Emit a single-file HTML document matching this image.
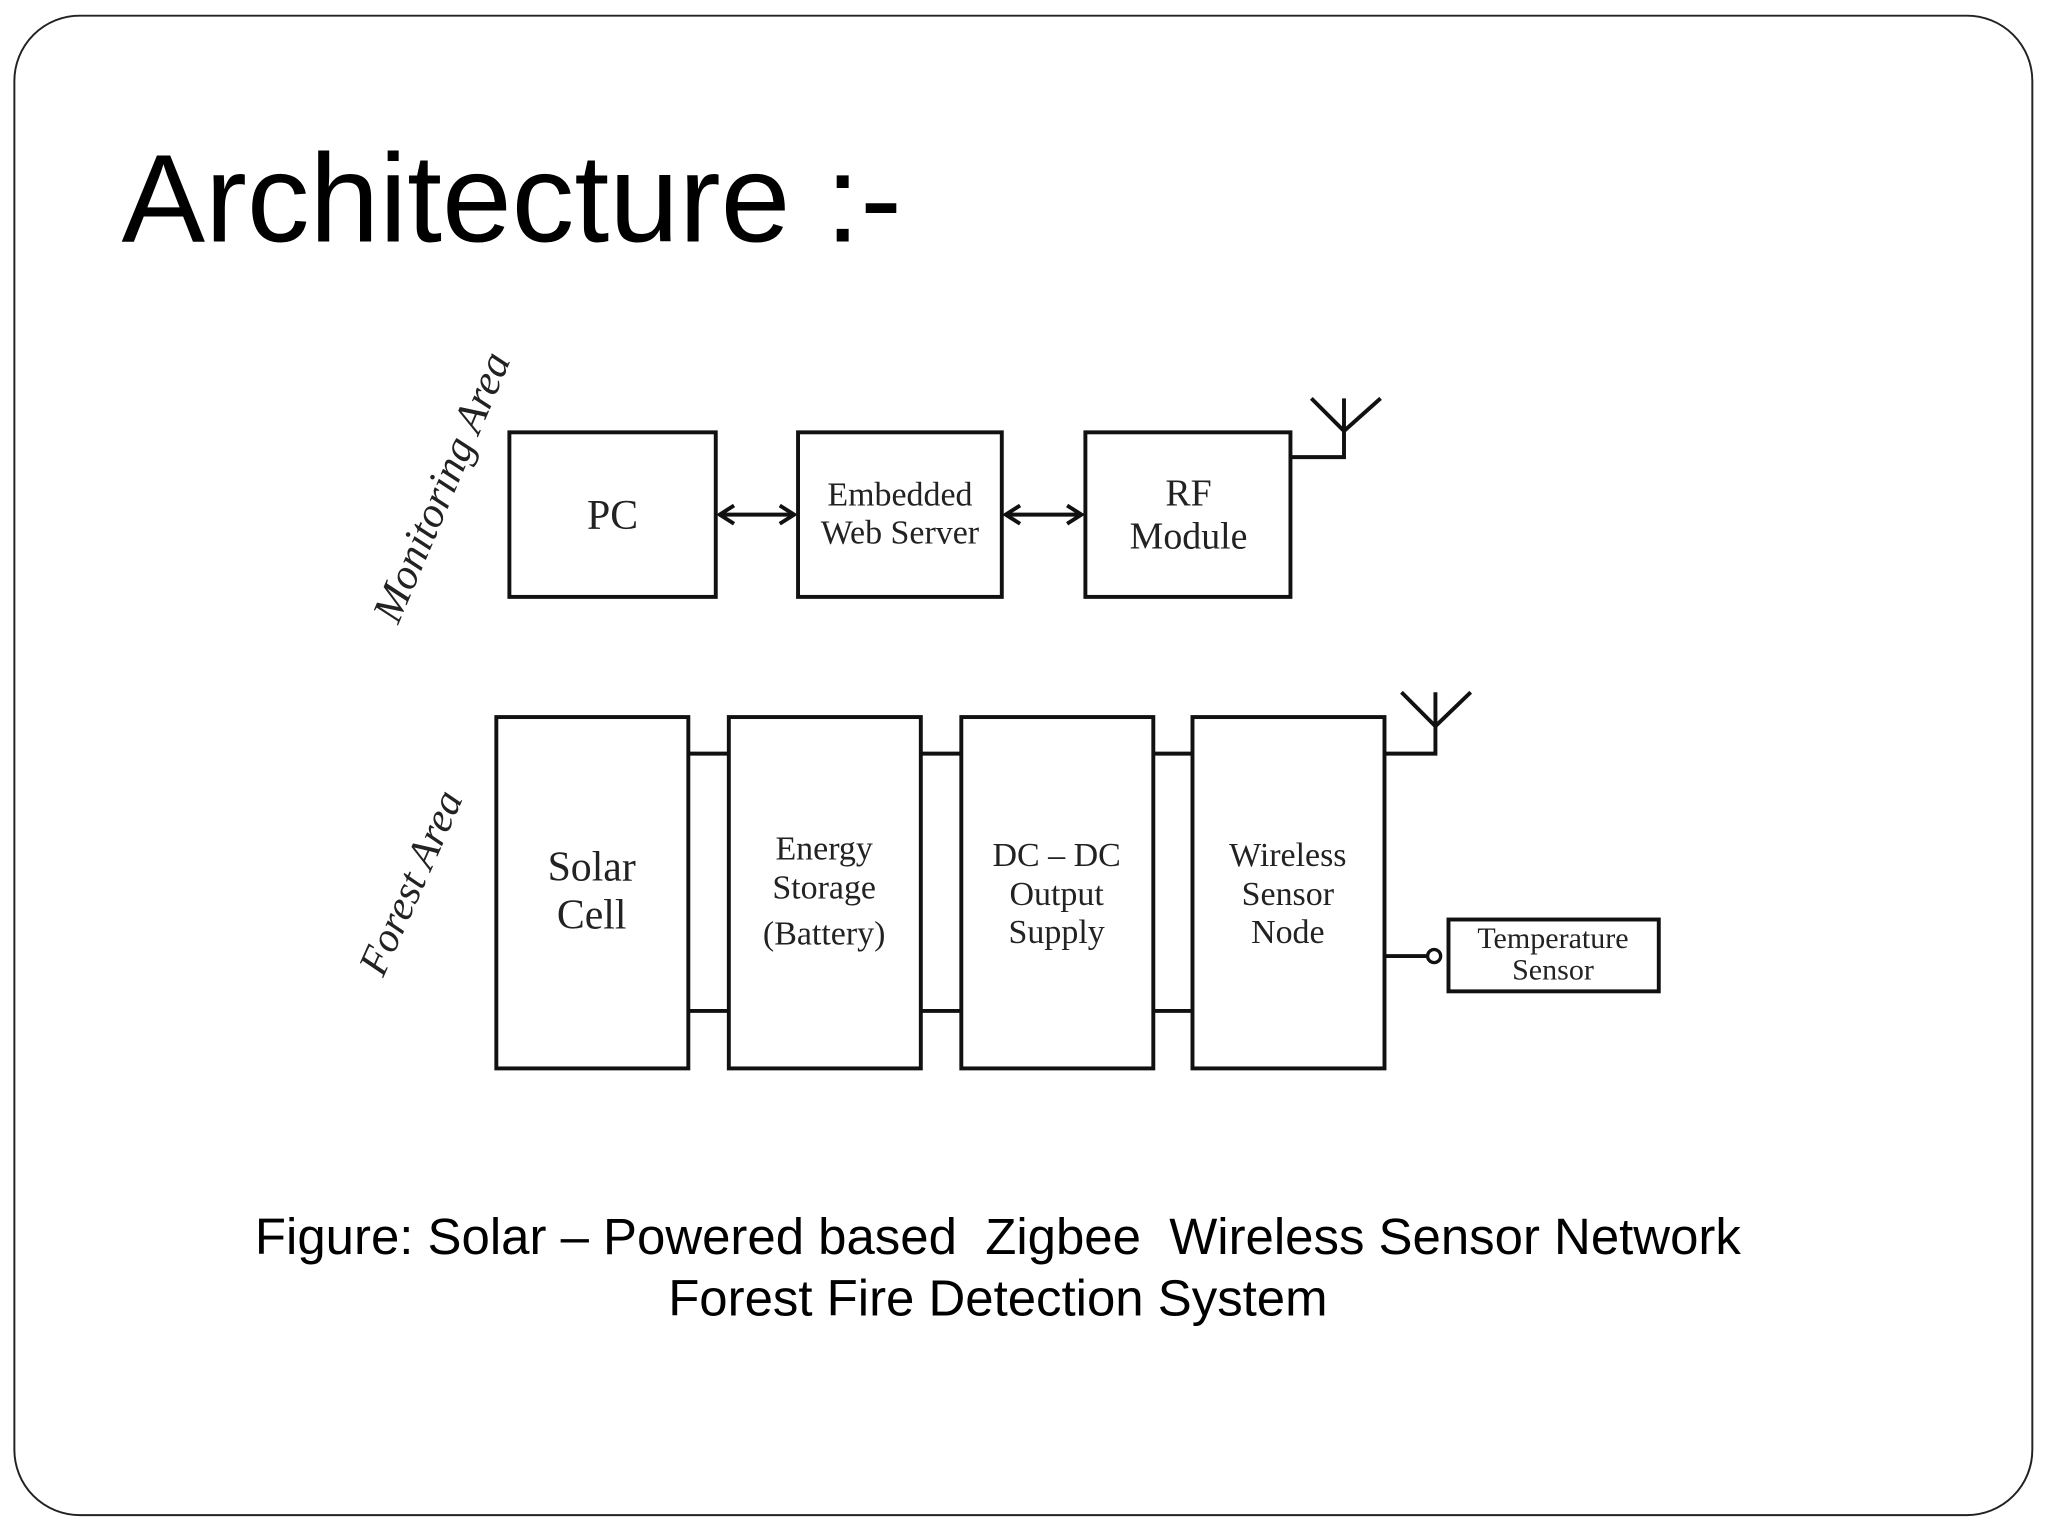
<!DOCTYPE html>
<html><head><style>html,body{margin:0;padding:0;background:#fff}svg{display:block}</style></head>
<body>
<svg width="2048" height="1536" viewBox="0 0 1568 1176" xmlns="http://www.w3.org/2000/svg">
<rect x="0" y="0" width="1568" height="1176" fill="#fff"/>
<rect x="11" y="12" width="1545" height="1148" rx="50" ry="50" fill="#fff" stroke="#222" stroke-width="1.5"/>
<text x="93" y="185" font-family="Liberation Sans, sans-serif" font-size="96" fill="#000">Architecture :-</text>
<g fill="none" stroke="#111" stroke-width="3">
<rect x="390" y="331" width="158" height="126"/>
<rect x="611" y="331" width="156" height="126"/>
<rect x="831" y="331" width="157" height="126"/>
<line x1="551" y1="394" x2="608" y2="394"/>
<polyline points="562,387 551,394 562,401"/><polyline points="597,387 608,394 597,401"/>
<line x1="770" y1="394" x2="828" y2="394"/>
<polyline points="781,387 770,394 781,401"/><polyline points="817,387 828,394 817,401"/>
<polyline points="988,350 1029,350 1029,305"/>
<polyline points="1004,305 1029,330 1057,305"/>
<rect x="380" y="549" width="147" height="269"/>
<rect x="558" y="549" width="147" height="269"/>
<rect x="736" y="549" width="147" height="269"/>
<rect x="913" y="549" width="147" height="269"/>
<line x1="527" y1="577" x2="558" y2="577"/><line x1="527" y1="774" x2="558" y2="774"/>
<line x1="705" y1="577" x2="736" y2="577"/><line x1="705" y1="774" x2="736" y2="774"/>
<line x1="883" y1="577" x2="913" y2="577"/><line x1="883" y1="774" x2="913" y2="774"/>
<polyline points="1060,577 1099,577 1099,530"/>
<polyline points="1073,530 1099,556 1126,530"/>
<line x1="1060" y1="732" x2="1093" y2="732"/>
<circle cx="1098" cy="732" r="5" stroke-width="2.5"/>
<rect x="1109" y="704" width="161" height="55"/>
</g>
<g font-family="Liberation Serif, serif" fill="#222" text-anchor="middle">
<text x="469" y="405" font-size="32">PC</text>
<text x="689" y="387" font-size="26">Embedded</text>
<text x="689" y="416" font-size="26">Web Server</text>
<text x="910" y="387" font-size="29">RF</text>
<text x="910" y="420" font-size="29">Module</text>
<text x="453" y="674" font-size="32">Solar</text>
<text x="453" y="711" font-size="32">Cell</text>
<text x="631" y="658" font-size="26">Energy</text>
<text x="631" y="688" font-size="26">Storage</text>
<text x="631" y="723" font-size="26">(Battery)</text>
<text x="809" y="663" font-size="26">DC – DC</text>
<text x="809" y="693" font-size="26">Output</text>
<text x="809" y="722" font-size="26">Supply</text>
<text x="986" y="663" font-size="26">Wireless</text>
<text x="986" y="693" font-size="26">Sensor</text>
<text x="986" y="722" font-size="26">Node</text>
<text x="1189" y="726" font-size="23">Temperature</text>
<text x="1189" y="750" font-size="23">Sensor</text>
<text transform="translate(348,377) rotate(-67)" font-size="33" font-style="italic">Monitoring  Area</text>
<text transform="translate(324,680) rotate(-66)" font-size="32" font-style="italic">Forest Area</text>
</g>
<g font-family="Liberation Sans, sans-serif" font-size="39" fill="#000" text-anchor="middle">
<text x="764" y="960" xml:space="preserve">Figure: Solar – Powered based  Zigbee  Wireless Sensor Network</text>
<text x="764" y="1007">Forest Fire Detection System</text>
</g>
</svg>
</body></html>
